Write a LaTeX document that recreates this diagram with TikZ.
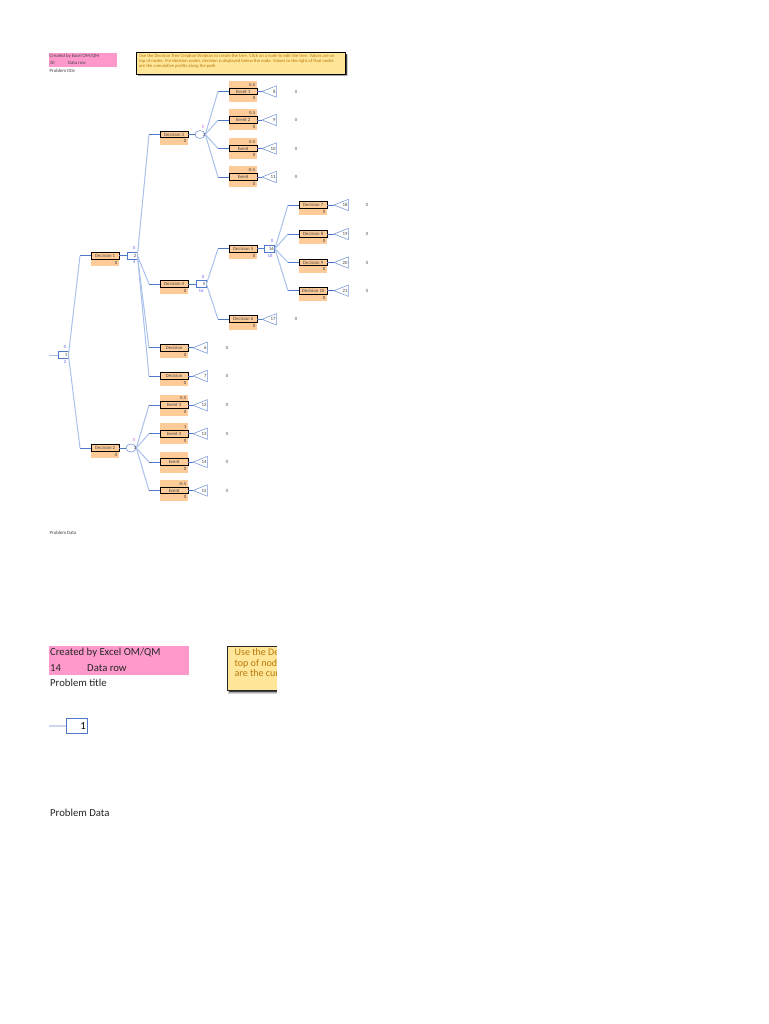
\documentclass[tikz,border=0pt]{standalone}
\usepackage{fontspec}
\setmainfont{Carlito}
\usetikzlibrary{calc,shapes.geometric}
\definecolor{orng}{HTML}{FFCC99}
\definecolor{pnk}{HTML}{FF99CC}
\definecolor{nt}{HTML}{FFE699}
\definecolor{ntx}{HTML}{B8780A}
\definecolor{lite}{HTML}{A9C1EC}
\definecolor{dark}{HTML}{4F78C8}
\definecolor{nblue}{HTML}{6A6AF0}
\definecolor{nvio}{HTML}{D070D0}
\definecolor{gry}{HTML}{555555}
\tikzset{
 tiny/.style={font=\fontsize{4.8}{5.4}\selectfont,inner sep=0pt,text=black!75},
 dbox/.style={tiny,draw=black,line width=0.85pt,fill=orng,minimum width=27.5pt,minimum height=6.8pt},
 sq/.style={tiny,draw=dark,line width=0.8pt,fill=white,minimum width=10pt,minimum height=7pt,align=right,text width=8.6pt},
 oval/.style={tiny,draw=dark!80,line width=0.6pt,fill=white,ellipse,minimum width=10pt,minimum height=8pt},
 trinum/.style={tiny,minimum width=14pt,minimum height=11pt,text width=12.6pt,align=right},
 triline/.style={draw=dark!80,line width=0.55pt},
 val/.style={tiny,text=gry},
 bnum/.style={tiny,text=nblue},
 vnum/.style={tiny,text=nvio},
 lt/.style={draw=lite,line width=1pt},
 dk/.style={draw=dark,line width=0.9pt},
 captxt/.style={tiny,anchor=west},
 big/.style={font=\fontsize{10.7}{13}\selectfont,inner sep=0pt,anchor=west,text=black!85},
 shd/.style={fill=black,fill opacity=0.18},
}
\newcommand{\dnode}[6]{% name, x-left, y, label, top, bottom
 \fill[orng] (#2,#3-10.5) rectangle (#2+27.5,#3+10.5);
 \node[dbox,anchor=west] (#1) at (#2,#3) {#4};
 \node[tiny,anchor=east] (#1t) at (#2+26.5,#3-7) {#5};
 \node[tiny,anchor=east] (#1b) at (#2+26.5,#3+6.8) {#6};
}
\newcommand{\pnode}[6]{% plain decision, band only below
 \fill[orng] (#2,#3) rectangle (#2+27.5,#3+10.2);
 \node[dbox,anchor=west] (#1) at (#2,#3) {#4};
 \node[tiny,anchor=east] (#1b) at (#2+26.5,#3+6.8) {#6};
}
\newcommand{\term}[5]{% name, x, y, number, value x
 \node[trinum,anchor=west] (#1) at (#2,#3) {#4};
 \draw[triline] (#1.west) -- (#1.north east) -- (#1.south east) -- cycle;
 \node[val] (#1v) at (#5,#3) {0};
}
\newcommand{\tconn}[2]{\draw[dk] (#1.east) -- (#2.west);}
\newcommand{\conn}[2]{%
 \draw[lt] (#1.east) -- ($(#2.west)+(-11,0)$);
 \draw[dk] ($(#2.west)+(-11,0)$) -- (#2.west);
}
\begin{document}
\begin{tikzpicture}[x=1pt,y=-1pt]
\useasboundingbox (0,0) rectangle (768,1024);
\fill[white] (0,0) rectangle (768,1024);
% header top
\node[fill=pnk,minimum width=68pt,minimum height=14pt,inner sep=0,anchor=north west] (hd) at (49,53) {};
\node[captxt] (h1) at (49.5,56) {Created by Excel OM/QM};
\node[captxt] (h2) at (49.5,63) {30};
\node[captxt] (h3) at (68,63) {Data row};
\node[captxt] (h4) at (49.5,70.5) {Problem title};
\fill[shd] (137.5,54) rectangle (347.5,76.5);
\fill[shd] (138,54.5) rectangle (347,75.8);
\fill[black!75] (138,54) rectangle (346.6,75);
\node[draw=black,line width=0.9pt,fill=nt,minimum width=209pt,minimum height=21.5pt,inner sep=0,anchor=north west] (nb) at (136,52.5) {};
\node[anchor=north west,text=ntx,align=left,inner sep=0pt,font=\fontsize{4.6}{4.8}\selectfont] (nt) at (139,54.3) {Use the Decision Tree Creation Window to create the tree. Click on a node to edit the tree. Values are on\\top of nodes. For decision nodes, decision is displayed below the node. Values to the right of final nodes\\are the cumulative profits along the path};
% nodes
\node[sq] (r) at (63,355) {1};
\node[bnum] (rt) at (65,347) {0};
\node[bnum] (rb) at (65,362) {2};
\coordinate (in) at (49,355);
\pnode{d1}{91}{255.7}{Decision 1}{}{0}
\pnode{d2}{91}{448}{Decision 2}{}{0}
\node[sq] (s2) at (132,255.7) {2};
\node[bnum] (s2t) at (134,248) {0};
\node[bnum] (s2b) at (134,262) {4};
\node[oval] (o2) at (131,448) {};
\node[tiny] (o2n) at (135,448) {3};
\node[vnum] (o2t) at (134,440) {0};
\pnode{d3}{160}{134.5}{Decision 3}{}{0}
\pnode{d4}{160}{284}{Decision 4}{}{0}
\pnode{d5x}{160}{347.7}{Decision}{}{0}
\pnode{d6x}{160}{376}{Decision}{}{0}
\node[oval] (o3) at (200,134.5) {};
\node[tiny] (o3n) at (204,134.5) {3};
\node[vnum] (o3t) at (203,127) {0};
\node[sq] (s5) at (201,284) {5};
\node[bnum] (s5t) at (203,276.5) {0};
\node[bnum] (s5b) at (201,291) {16};
\dnode{e1}{229}{91.5}{Event 1}{0.5}{0}
\dnode{e2}{229}{120}{Event 2}{0.5}{0}
\dnode{e3}{229}{148.5}{Event}{0.5}{0}
\dnode{e4}{229}{177}{Event}{-0.5}{0}
\pnode{d5}{229}{248.7}{Decision 5}{}{0}
\pnode{d6}{229}{319.3}{Decision 6}{}{0}
\node[sq] (s16) at (269.5,248.7) {16};
\node[bnum] (s16t) at (272,241) {0};
\node[bnum] (s16b) at (270,255.5) {18};
\pnode{d7}{299}{205}{Decision 7}{}{0}
\pnode{d8}{299}{234}{Decision 8}{}{0}
\pnode{d9}{299}{262.5}{Decision 9}{}{0}
\pnode{d10}{299}{290.7}{Decision 10}{}{0}
\dnode{e5}{160}{405.3}{Event 3}{0.5}{0}
\dnode{e6}{160}{433.7}{Event 4}{1}{0}
\dnode{e7}{160}{462}{Event}{}{0}
\dnode{e8}{160}{490.5}{Event}{-0.5}{0}
% terminals
\term{t8}{262}{91.5}{8}{296}
\term{t9}{262}{120}{9}{296}
\term{t10}{262}{148.5}{10}{296}
\term{t11}{262}{177}{11}{296}
\term{t17}{262}{319.3}{17}{296}
\term{t18}{334}{205}{18}{367}
\term{t19}{334}{234}{19}{367}
\term{t20}{334}{262.5}{20}{367}
\term{t21}{334}{290.7}{21}{367}
\term{t6}{193}{347.7}{6}{227}
\term{t7}{193}{376}{7}{227}
\term{t12}{193}{405.3}{12}{227}
\term{t13}{193}{433.7}{13}{227}
\term{t14}{193}{462}{14}{227}
\term{t15}{193}{490.5}{15}{227}
% connectors
\draw[lt] (in) -- (r.west);
\conn{r}{d1}\conn{r}{d2}
\tconn{d1}{s2}\tconn{d2}{o2}
\conn{s2}{d3}\conn{s2}{d4}\conn{s2}{d5x}\conn{s2}{d6x}
\tconn{d3}{o3}\tconn{d4}{s5}
\conn{o3}{e1}\conn{o3}{e2}\conn{o3}{e3}\conn{o3}{e4}
\conn{s5}{d5}\conn{s5}{d6}
\tconn{d5}{s16}
\conn{s16}{d7}\conn{s16}{d8}\conn{s16}{d9}\conn{s16}{d10}
\conn{o2}{e5}\conn{o2}{e6}\conn{o2}{e7}\conn{o2}{e8}
\tconn{e1}{t8}\tconn{e2}{t9}\tconn{e3}{t10}\tconn{e4}{t11}
\tconn{d6}{t17}\tconn{d7}{t18}\tconn{d8}{t19}\tconn{d9}{t20}\tconn{d10}{t21}
\tconn{d5x}{t6}\tconn{d6x}{t7}
\tconn{e5}{t12}\tconn{e6}{t13}\tconn{e7}{t14}\tconn{e8}{t15}
\node[captxt] (pd1) at (49.5,533) {Problem Data};
% lower copy
\node[fill=pnk,minimum width=140pt,minimum height=29pt,inner sep=0,anchor=north west] (hd2) at (49,646) {};
\node[big] (b1) at (50,653) {Created by Excel OM/QM};
\node[big] (b2) at (50,668) {14};
\node[big] (b3) at (87,668) {Data row};
\node[big] (b4) at (50,683) {Problem title};
\fill[shd] (228,648) rectangle (277,694);
\fill[shd] (228.5,648) rectangle (277,693);
\fill[black!75] (229,648) rectangle (277,691.5);
\node[draw=black!85,line width=1pt,fill=nt,minimum width=52pt,minimum height=43.5pt,inner sep=0,anchor=north west] (nb2) at (227,646) {};
\begin{scope}
\clip (228,647) rectangle (277,689);
\node[anchor=north west,text=ntx,align=left,inner sep=0pt,font=\fontsize{10}{10.5}\selectfont] (nt2) at (234.5,648.6) {Use the Decision Tree Creation\\top of nodes. For decision\\are the cumulative profits};
\end{scope}
\fill[white] (277,644) rectangle (300,696);
\node[draw=dark,line width=0.9pt,fill=white,minimum width=20.5pt,minimum height=15pt,inner sep=0,anchor=north west,font=\fontsize{10.7}{13}\selectfont,text width=18pt,align=right] (r2) at (66,718) {1};
\coordinate (in2) at (49,726);
\draw[draw=dark!80,line width=0.8pt] (in2) -- (r2.west);
\node[big] (pd2) at (50,813) {Problem Data};
\end{tikzpicture}
\end{document}
